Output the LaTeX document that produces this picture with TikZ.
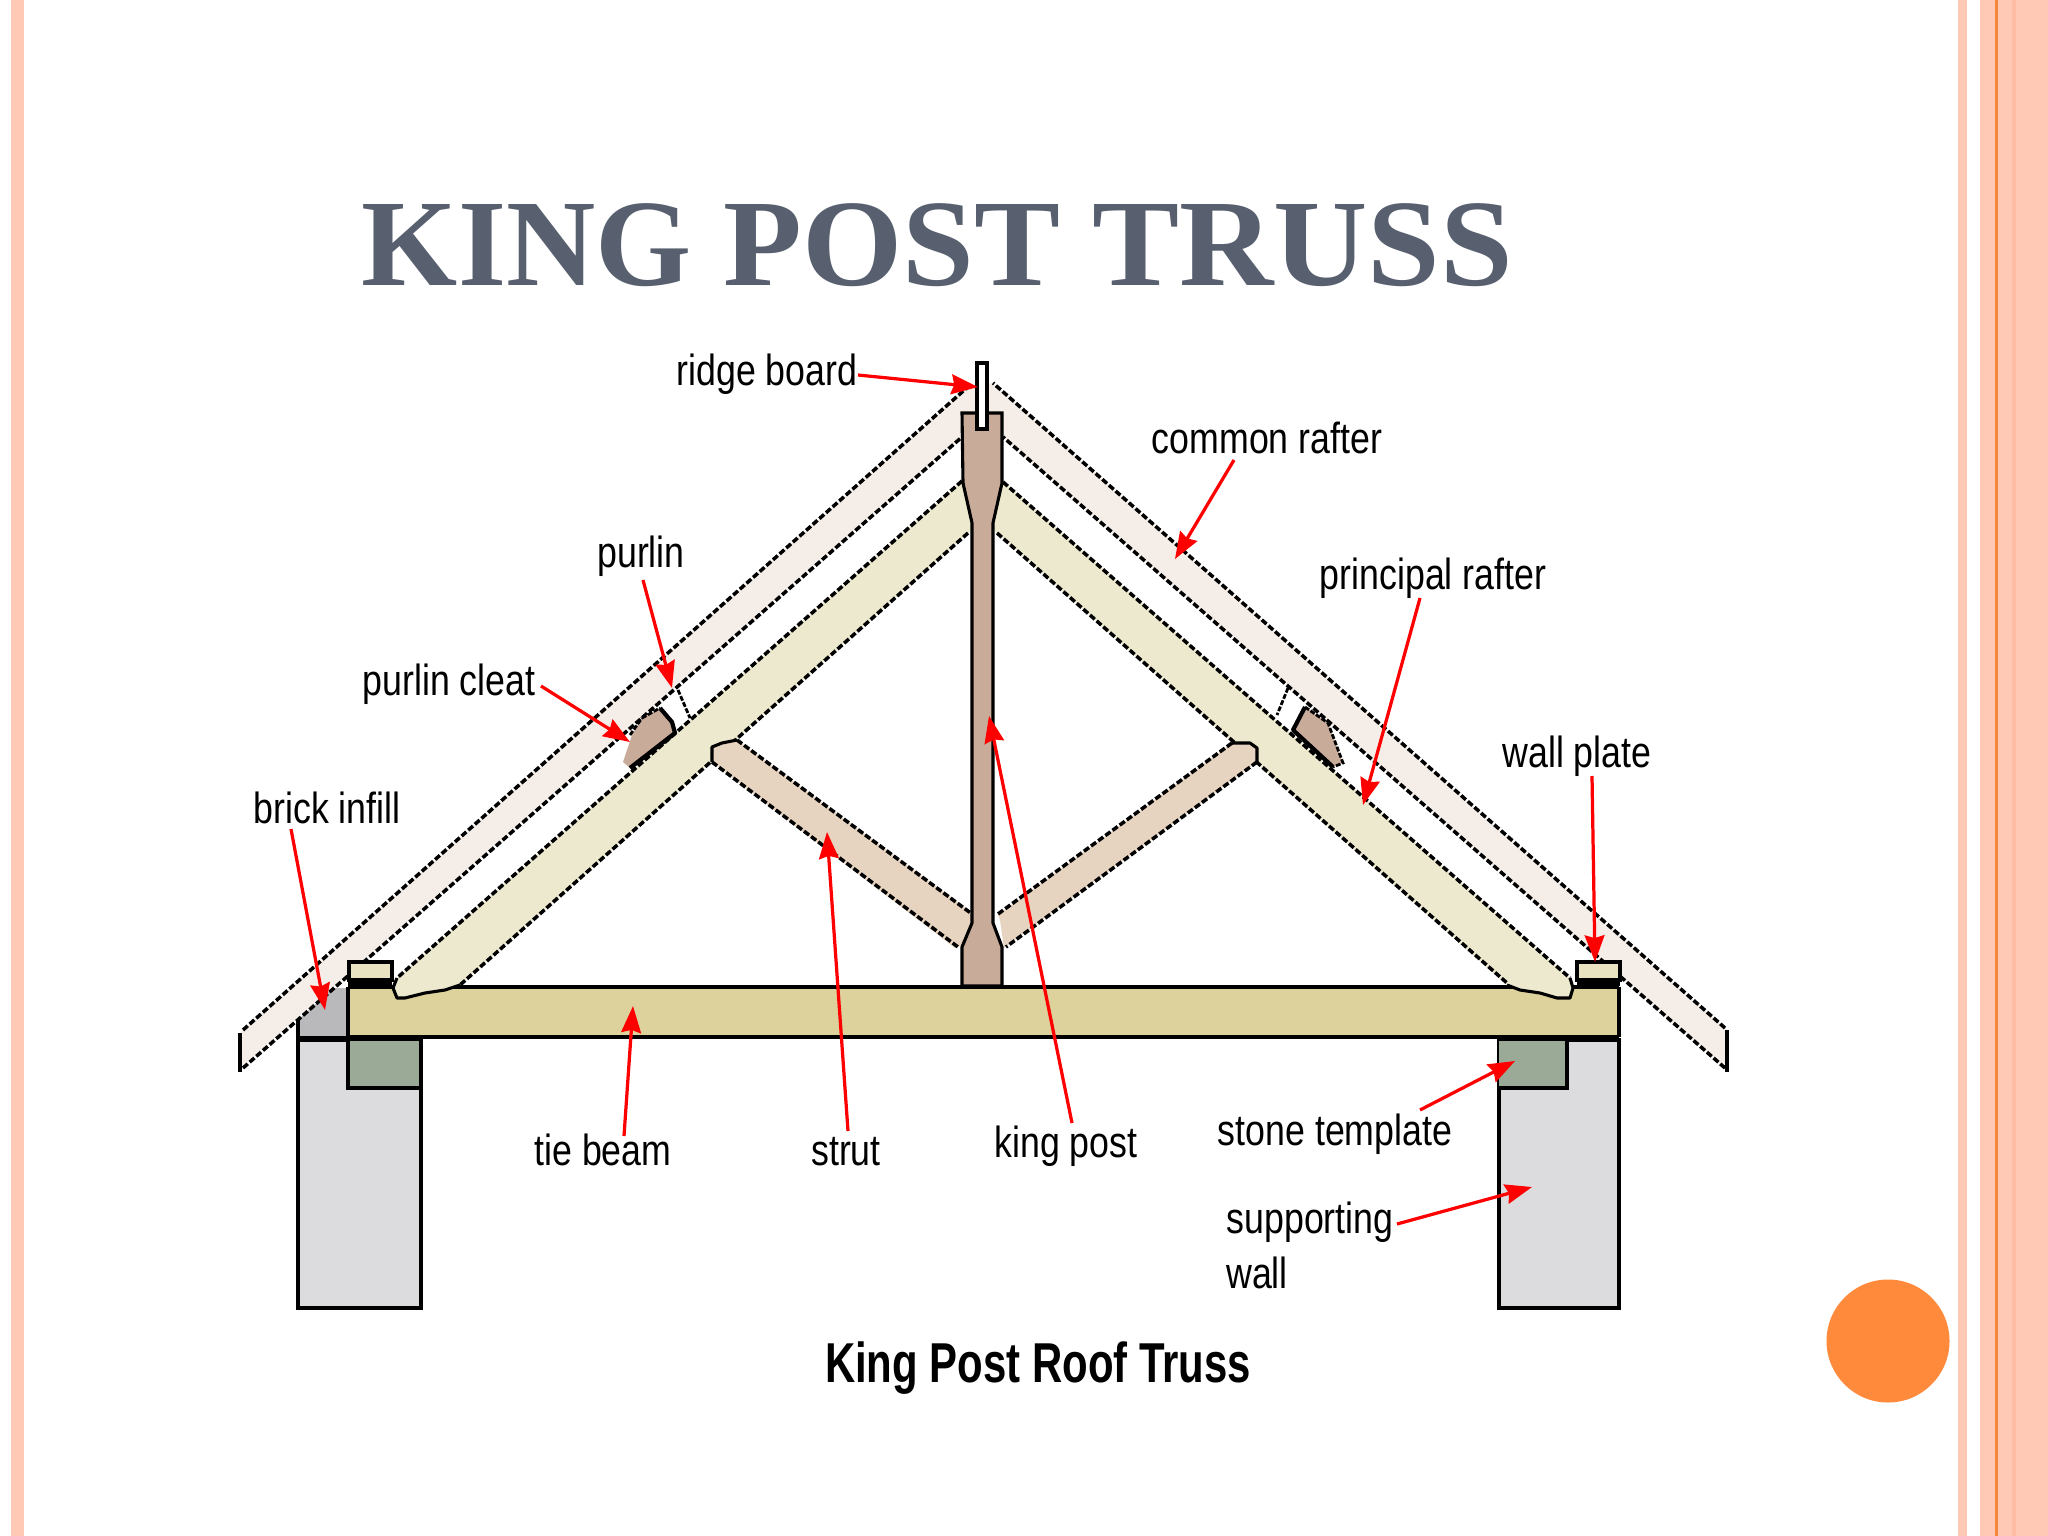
\documentclass[tikz,border=0pt]{standalone}
\usepackage{graphicx}
\usepackage{fontspec}
\setmainfont{Liberation Sans}
\newfontfamily\titlefont{Liberation Serif}
\usetikzlibrary{arrows.meta,calc}
\definecolor{barpink}{HTML}{FFC9B5}
\definecolor{bardark}{HTML}{FFBCA5}
\definecolor{barline}{HTML}{F4873C}
\definecolor{dotorange}{HTML}{FF8A3C}
\definecolor{titlegrey}{HTML}{586070}
\definecolor{rafterfill}{HTML}{F5EEE8}
\definecolor{principalfill}{HTML}{EDE9CF}
\definecolor{platefill}{HTML}{E9E3C2}
\definecolor{strutfill}{HTML}{E6D3C0}
\definecolor{postfill}{HTML}{C9AB9A}
\definecolor{beamfill}{HTML}{DDD29B}
\definecolor{stonefill}{HTML}{9BAA96}
\definecolor{wallfill}{HTML}{DCDCDE}
\definecolor{brickfill}{HTML}{B9B8BA}
\tikzset{
  x=0.05cm,y=-0.05cm,
  barfill/.style={fill=barpink,draw=none},
  stair/.style={draw=black,line width=5pt,dash pattern=on 9pt off 3.6pt},
  thinstair/.style={draw=black,line width=4pt,dash pattern=on 7pt off 2.5pt},
  solidline/.style={draw=black,line width=4.4pt,line join=miter},
  notchline/.style={draw=black,line width=4.4pt,line join=bevel},
  thickline/.style={draw=black,line width=9pt},
  lab/.style={font=\fontsize{62}{70}\selectfont,anchor=base,inner sep=0pt,xscale=0.82,text=black},
  redarrow/.style={draw=red,line width=4.6pt,-{Stealth[length=38pt,width=28pt,inset=4pt]}},
}
\begin{document}
\begin{tikzpicture}
\useasboundingbox (0,0) rectangle (2048,1536);
\fill[white] (0,0) rectangle (2048,1536);
% page decoration
\fill[barfill] (11,0) rectangle (24,1536);
\fill[barfill] (1958,0) rectangle (1967,1536);
\fill[barfill] (1980,0) rectangle (2048,1536);
\fill[bardark] (2012,0) rectangle (2016,1536);
\fill[barline] (1995,0) rectangle (1997.5,1536);
\node[circle,fill=dotorange,minimum size=123*0.05cm,inner sep=0pt] (dot) at (1888,1341) {};
\node[font=\fontsize{176}{190}\bfseries\titlefont,text=titlegrey,anchor=base,inner sep=0pt,xscale=1.03] (title) at (937.5,285) {\scalebox{0.97}[1]{KING} \scalebox{1.012}[1]{POST} \scalebox{1.025}[1]{TRUSS}};
% walls
\filldraw[fill=wallfill,solidline] (298,1040) rectangle (421,1308);
\filldraw[fill=wallfill,solidline] (1499,1040) rectangle (1619,1308);
\fill[stonefill] (348,1040) rectangle (421,1088);
\draw[solidline] (421,1040) -- (421,1088) -- (348,1088) -- (348,1040);
\fill[stonefill] (1499,1040) rectangle (1567,1088);
\draw[solidline] (1567,1040) -- (1567,1088) -- (1499,1088);
% brick infill
\fill[brickfill] (298,1020) -- (333,988) -- (348,988) -- (348,1037) -- (298,1037) -- cycle;
\draw[solidline] (298,1020) -- (298,1038) -- (348,1038);
% rafters
\fill[rafterfill] (240,1033) -- (970,385) -- (985,385) -- (985,430) -- (962,437) -- (240,1068) -- cycle;
\fill[rafterfill] (1727,1030) -- (993,383) -- (980,385) -- (980,430) -- (1003,437) -- (1727,1070) -- cycle;
\draw[stair] (243,1030) -- (970,385);
\draw[stair] (243,1068) -- (962,437);
\draw[stair] (1725,1028) -- (993,383);
\draw[stair] (1725,1068) -- (1003,437);
\draw[solidline] (240,1033) -- (240,1072);
\draw[solidline] (1727,1030) -- (1727,1072);
% tie beam
\fill[beamfill] (348,987) rectangle (1619,1037);
\draw[solidline] (348,987) -- (348,1037);
\draw[solidline] (1619,987) -- (1619,1037);
\draw[solidline] (348,987) -- (1619,987);
\draw[solidline] (348,1037) -- (1619,1037);
\draw[thickline] (348,1038) -- (421,1038);
\draw[thickline] (1499,1038) -- (1619,1038);
% wall plates
\filldraw[fill=platefill,solidline] (349,962) rectangle (392,980);
\draw[thickline] (348,983) -- (392,983);
\filldraw[fill=platefill,solidline] (1577,962) rectangle (1620,980);
\draw[thickline] (1577,983) -- (1620,983);
% principal rafters
\fill[principalfill] (970,474) -- (397,978) -- (393,988) -- (397,998) -- (405,998) -- (425,993) -- (445,990) -- (460,985) -- (975,527) -- cycle;
\fill[principalfill] (995,474) -- (1570,978) -- (1573,988) -- (1570,998) -- (1557,998) -- (1540,993) -- (1520,990) -- (1507,985) -- (990,527) -- cycle;
\draw[stair] (962,481) -- (397,978);
\draw[stair] (968,533) -- (460,985);
\draw[stair] (1003,482) -- (1570,978);
\draw[stair] (997,533) -- (1507,983);
\draw[notchline] (397,978) -- (393,988) -- (397,998) -- (405,998) -- (425,993) -- (445,990) -- (460,985);
\draw[notchline] (1570,978) -- (1573,988) -- (1570,998) -- (1557,998) -- (1540,993) -- (1520,990) -- (1507,985);
% struts
\fill[strutfill] (712,747) -- (722,743) -- (737,740) -- (975,915) -- (975,940) -- (955,948) -- (712,762) -- cycle;
\draw[notchline] (712,762) -- (712,747) -- (722,743) -- (737,740);
\draw[stair] (737,740) -- (972,914);
\draw[stair] (712,762) -- (958,947);
\fill[strutfill] (1000,920) -- (1004,948) -- (1257,762) -- (1257,748) -- (1250,743) -- (1232,743) -- (998,915) -- cycle;
\draw[notchline] (1257,762) -- (1257,748) -- (1250,743) -- (1232,743);
\draw[stair] (1232,743) -- (998,914);
\draw[stair] (1257,762) -- (1006,947);
% purlins and cleats
\draw[thinstair] (678,690) -- (690,718);
\draw[thinstair] (1288,688) -- (1277,715);
\fill[postfill] (660,708) -- (672,722) -- (675,733) -- (630,768) -- (623,762) -- (632,735) -- (642,718) -- cycle;
\draw[draw=black,line width=6pt,line join=round] (660,708) -- (672,722) -- (675,733) -- (630,768);
\draw[thinstair] (642,718) -- (660,708);
\draw[thinstair] (630,735) -- (642,718);
\fill[postfill] (1305,707) -- (1328,723) -- (1343,763) -- (1333,767) -- (1293,730) -- cycle;
\draw[draw=black,line width=6pt,line join=round] (1305,707) -- (1293,730) -- (1333,767);
\draw[thinstair] (1305,707) -- (1328,723) -- (1343,763) -- (1333,767);
% king post
\filldraw[fill=postfill,draw=black,line width=4.4pt,line join=miter] (962,413) -- (1002,413) -- (1002,483) -- (993,523) -- (993,923) -- (1002,947) -- (1002,986) -- (962,986) -- (962,947) -- (972,923) -- (972,523) -- (963,483) -- cycle;
% ridge board
\filldraw[fill=white,draw=black,line width=4.4pt] (977,363) rectangle (987,429);
% labels
\node[lab] (lridge) at (767,385) {ridge board};
\node[lab] (lcommon) at (1267,453) {common rafter};
\node[lab] (lprincipal) at (1433,589) {principal rafter};
\node[lab] (lpurlin) at (641,567) {purlin};
\node[lab] (lcleat) at (449,695) {purlin cleat};
\node[lab] (lbrick) at (327,823) {brick infill};
\node[lab] (lplate) at (1577,767) {wall plate};
\node[lab] (ltie) at (603,1165) {tie beam};
\node[lab] (lstrut) at (846,1165) {strut};
\node[lab] (lking) at (1066,1157) {king post};
\node[lab] (lstone) at (1335,1145) {stone template};
\node[lab] (lsupport) at (1310,1233) {supporting};
\node[lab] (lwall) at (1257,1288) {wall};
\node[font=\fontsize{80}{90}\bfseries,anchor=base,inner sep=0pt,xscale=0.745,text=black] (caption) at (1038,1382) {King Post Roof Truss};
% arrow tips
\coordinate (tridge) at (978,387);
\coordinate (tcommon) at (1175,559);
\coordinate (tprincipal) at (1363,805);
\coordinate (tpurlin) at (672,688);
\coordinate (tcleat) at (630,742);
\coordinate (tbrick) at (325,1010);
\coordinate (tplate) at (1595,962);
\coordinate (ttie) at (633,1006);
\coordinate (tstrut) at (827,832);
\coordinate (tking) at (989,716);
\coordinate (tstone) at (1515,1061);
\coordinate (tsupport) at (1532,1187);
\draw[redarrow] ($(lridge.base)+(91,-10)$) -- (tridge);
\draw[redarrow] ($(lcommon.base)+(-33,7)$) -- (tcommon);
\draw[redarrow] ($(lprincipal.base)+(-13,9)$) -- (tprincipal);
\draw[redarrow] ($(lpurlin.base)+(2,13)$) -- (tpurlin);
\draw[redarrow] ($(lcleat.base)+(92,-9)$) -- (tcleat);
\draw[redarrow] ($(lbrick.base)+(-36,6)$) -- (tbrick);
\draw[redarrow] ($(lplate.base)+(15,9)$) -- (tplate);
\draw[redarrow] ($(ltie.base)+(21,-29)$) -- (ttie);
\draw[redarrow] ($(lstrut.base)+(2,-34)$) -- (tstrut);
\draw[redarrow] ($(lking.base)+(6,-34)$) -- (tking);
\draw[redarrow] ($(lstone.base)+(85,-35)$) -- (tstone);
\draw[redarrow] ($(lsupport.base)+(87,-9)$) -- (tsupport);
\end{tikzpicture}
\end{document}
